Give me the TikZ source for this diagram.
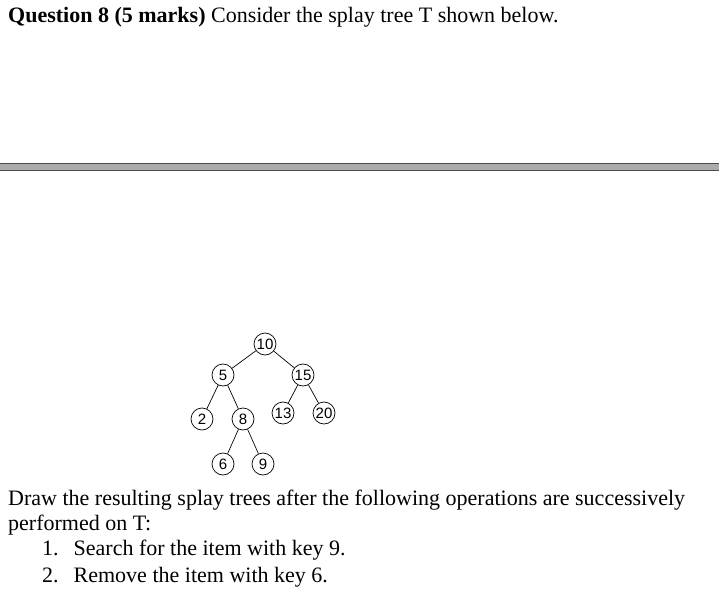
\documentclass[tikz,border=0pt]{standalone}
\usepackage{fontspec}
\setmainfont{Liberation Serif}
\newfontfamily\arialf{Liberation Sans}
\begin{document}
\begin{tikzpicture}[x=1pt,y=-1pt,
  tn/.style={circle,draw,line width=0.7pt,minimum size=22pt,inner sep=0pt,font=\arialf\fontsize{15}{15}\selectfont},
  tx/.style={anchor=base west,inner sep=0pt,font=\fontsize{22}{22}\selectfont}]
\useasboundingbox (0,0) rectangle (719,593);
\node[tx] (q) at (8,23) {\textbf{Question 8 (5 marks)} Consider the splay tree T shown below.};
\path[fill=black!33,draw=black!70,line width=1.2pt] (-2,163.5) rectangle (721,170.5);
\node[tn] (n10) at (265,344) {10};
\node[tn] (n5) at (223,375) {5};
\node[tn] (n15) at (303,375) {15};
\node[tn] (n2) at (202,419) {2};
\node[tn] (n8) at (243,419) {8};
\node[tn] (n13) at (283,413) {13};
\node[tn] (n20) at (324,413) {20};
\node[tn] (n6) at (223,464) {6};
\node[tn] (n9) at (263,464) {9};
\foreach \a/\b in {n10/n5,n10/n15,n5/n2,n5/n8,n15/n13,n15/n20,n8/n6,n8/n9}
  \draw[line width=0.7pt] (\a) -- (\b);
\node[tx] (l1) at (8,505) {Draw the resulting splay trees after the following operations are successively};
\node[tx] (l2) at (8,530) {performed on T:};
\node[tx] (l3) at (42,555) {1.\hspace{15pt}Search for the item with key 9.};
\node[tx] (l4) at (42,582) {2.\hspace{15pt}Remove the item with key 6.};
\end{tikzpicture}
\end{document}
